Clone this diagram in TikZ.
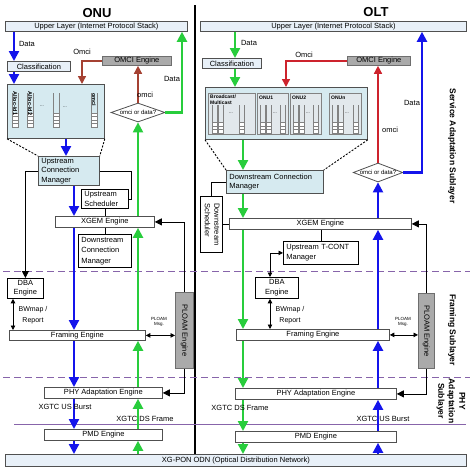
\documentclass[tikz,border=0pt]{standalone}
\usepackage{fontspec}
\setmainfont{Liberation Sans}
\usepackage{graphicx}
\usetikzlibrary{arrows.meta,
                calc,
                positioning,
                shapes.geometric}

\definecolor{palefill}{RGB}{232,240,248}
\definecolor{cyanfill}{RGB}{214,234,240}
\definecolor{subfill}{RGB}{226,232,236}
\definecolor{enginefill}{RGB}{170,170,170}
\definecolor{enginedraw}{RGB}{110,110,110}
\definecolor{boxline}{RGB}{80,80,80}
\definecolor{tubeline}{RGB}{130,130,130}
\definecolor{usblue}{RGB}{20,20,235}
\definecolor{dsgreen}{RGB}{40,205,60}
\definecolor{onubrown}{RGB}{165,65,50}
\definecolor{oltred}{RGB}{205,35,45}
\definecolor{subline}{RGB}{135,100,170}

\begin{document}
\begin{tikzpicture}[
    x=1pt, y=-1pt,
    font=\fontsize{7.5}{9.5}\selectfont,
        base/.style = {draw=boxline, line width=0.8pt, fill=white, inner sep=1pt, anchor=north west},
        sz/.style 2 args = {minimum width=#1pt, minimum height=#2pt},
        layerbox/.style = {base, fill=palefill},
        queuebox/.style = {base, fill=cyanfill},
        subqueue/.style = {base, fill=subfill, draw=tubeline, line width=0.5pt},
        manager/.style = {base, align=left, inner xsep=3pt},
        engine/.style = {base, fill=enginefill, draw=enginedraw},
        decision/.style = {diamond, draw=boxline, line width=0.8pt, fill=white, aspect=3,
                    inner sep=0pt, minimum width=54pt, minimum height=19pt,
                    font=\fontsize{6}{6.5}\selectfont},
        sidetitle/.style = {font=\fontsize{13}{15}\selectfont\bfseries},
        sublayer/.style = {font=\fontsize{8.5}{10.5}\selectfont\bfseries, rotate=-90, align=center},
        qlabel/.style = {font=\fontsize{5.5}{6}\selectfont\bfseries, inner sep=0pt},
        tinytext/.style = {font=\fontsize{4.5}{5.5}\selectfont, align=center, inner sep=0pt},
        tube/.style = {draw=tubeline, line width=0.5pt},
        upflow/.style = {draw=usblue, line width=2.2pt, -{Triangle[length=10pt, width=10pt]}},
        dsflow/.style = {draw=dsgreen, line width=2.2pt, -{Triangle[length=10pt, width=10pt]}},
        omciflow/.style = {line width=1.4pt, -{Triangle[length=8pt, width=8pt]}},
        ctrl/.style = {draw=black, line width=0.8pt},
        ctrlarrow/.style = {ctrl, -{Triangle[length=7pt, width=7pt]}},
        ctrlboth/.style = {ctrl, {Triangle[length=4.5pt, width=4.5pt]}-{Triangle[length=4.5pt, width=4.5pt]}},
        splitline/.style = {draw=black, line width=2.6pt},
        subdash/.style = {draw=subline, line width=1pt, dash pattern=on 7pt off 4pt},
        zoomline/.style = {draw=black, line width=0.9pt, dash pattern=on 2pt off 1.5pt}
    ]
    \useasboundingbox (0,0) rectangle (474,474);

    % ---------------- ONU ----------------
    \node[sidetitle] (onu-title) at (97,13) {ONU};
    \node[layerbox, sz={182}{10}] (onu-upper) at (5,21) {Upper Layer (Internet Protocol Stack)};
    \node[layerbox, sz={63}{10}] (onu-class) at (7,61) {Classification};
    \node[queuebox, sz={97}{54}] (onu-buf) at (7,84) {};
    \node[engine, sz={69}{9}] (onu-omci) at (102,56) {OMCI Engine};
    \node[decision] (onu-dec) at (138,112.5) {omci or data?};
    \node[manager, text width=55pt, minimum height=29pt, fill=cyanfill] (onu-ucm) at (38,156) {Upstream\\Connection\\Manager};
    \node[manager, text width=41pt, minimum height=19pt, draw=black] (onu-us) at (81,189) {Upstream\\Scheduler};
    \node[base, sz={99}{11}] (onu-xgem) at (55,216) {XGEM Engine};
    \node[manager, text width=47pt, minimum height=33pt, draw=black,
          font=\fontsize{7.5}{10.5}\selectfont] (onu-dcm) at (78,234) {Downstream\\Connection\\Manager};
    \node[base, sz={36}{20}, align=center, draw=black] (onu-dba) at (7,278) {DBA\\Engine};
    \node[base, sz={136}{10}] (onu-frame) at (9,330) {Framing Engine};
    \node[engine, sz={18}{76}] (onu-ploam) at (175,292) {\rotatebox{-90}{PLOAM Engine}};
    \node[base, sz={118}{11}] (onu-phy) at (44,387) {PHY Adaptation Engine};
    \node[base, sz={118}{11}] (onu-pmd) at (44,429) {PMD Engine};

    % queues of the ONU
    \foreach \qx in {12,27,53,91}{
        \draw[tube] (\qx,93) -- (\qx,127) (\qx+6,93) -- (\qx+6,127);
        \foreach \k in {0,...,3}
            \draw[tube, fill=white] (\qx,113+3.5*\k) rectangle (\qx+6,116.5+3.5*\k);
    }
    \node[qlabel, rotate=-90] (alloc-1) at (15,103.5) {Alloc-Id1};
    \node[qlabel, rotate=-90] (alloc-2) at (30,103.5) {Alloc-Id2};
    \node[qlabel, rotate=-90] (alloc-omci) at (94,100) {omci};
    \node[tinytext] (onu-dots-1) at (42,106) {...};
    \node[tinytext] (onu-dots-2) at (65,107) {...};

    % ---------------- OLT ----------------
    \node[sidetitle] (olt-title) at (376,12) {OLT};
    \node[layerbox, sz={266}{10}] (olt-upper) at (200,21) {Upper Layer (Internet Protocol Stack)};
    \node[layerbox, sz={59}{10}] (olt-class) at (202,58) {Classification};
    \node[queuebox, sz={162}{52}] (olt-buf) at (205,87) {};
    \node[engine, sz={63}{9}] (olt-omci) at (347,56) {OMCI Engine};
    \node[decision, minimum width=49pt] (olt-dec) at (378,172.5) {omci or data?};
    \node[manager, text width=91pt, minimum height=23pt, fill=cyanfill] (olt-dcm) at (226,170) {Downstream Connection\\Manager};
    \node[base, sz={22}{56}, draw=black] (olt-ds) at (200,196)
        {\rotatebox{-90}{\begin{tabular}{@{}l@{}}Downstream\\Scheduler\end{tabular}}};
    \node[base, sz={182}{11}] (olt-xgem) at (229,218) {XGEM Engine};
    \node[manager, text width=69pt, minimum height=23pt, draw=black,
          font=\fontsize{7.5}{10.5}\selectfont] (olt-tcont) at (283,241) {Upstream T-CONT\\Manager};
    \node[base, sz={43}{21}, align=center, draw=black] (olt-dba) at (255,277) {DBA\\Engine};
    \node[base, sz={153}{11}] (olt-frame) at (236,329) {Framing Engine};
    \node[engine, sz={16}{75}] (olt-ploam) at (418,293) {\rotatebox{-90}{PLOAM Engine}};
    \node[base, sz={161}{11}] (olt-phy) at (235,388) {PHY Adaptation Engine};
    \node[base, sz={161}{11}] (olt-pmd) at (235,431) {PMD Engine};

    % queues of the OLT
    \node[subqueue, sz={47}{41}] (olt-bc) at (208,93) {};
    \node[subqueue, sz={31}{41}] (olt-onu1) at (257,93) {};
    \node[subqueue, sz={31}{41}] (olt-onu2) at (290,93) {};
    \node[subqueue, sz={32}{41}] (olt-onun) at (329,93) {};
    \foreach \qx in {212,218,239,260,266,280,293,299,313,332,338,353}{
        \draw[tube] (\qx,105) -- (\qx,133) (\qx+5,105) -- (\qx+5,133);
        \foreach \k in {0,1,2}
            \draw[tube, fill=white] (\qx,122.5+3.5*\k) rectangle (\qx+5,126+3.5*\k);
    }
    \node[qlabel, anchor=north west, align=left, font=\fontsize{5}{5.5}\selectfont\bfseries] (bc-label) at (210,95) {Broadcast/\\Multicast};
    \node[qlabel, anchor=north west, font=\fontsize{5}{5.5}\selectfont\bfseries] (onu1-label) at (259,96) {ONU1};
    \node[qlabel, anchor=north west, font=\fontsize{5}{5.5}\selectfont\bfseries] (onu2-label) at (292,96) {ONU2};
    \node[qlabel, anchor=north west, font=\fontsize{5}{5.5}\selectfont\bfseries] (onun-label) at (331,96) {ONUn};
    \node[tinytext] (olt-dots-1) at (231,113) {...};
    \node[tinytext] (olt-dots-2) at (275,113) {...};
    \node[tinytext] (olt-dots-3) at (308,113) {...};
    \node[tinytext] (olt-dots-4) at (347,113) {...};

    % ---------------- shared ----------------
    \node[layerbox, sz={461}{12}] (odn) at (5,454) {XG-PON ODN (Optical Distribution Network)};

    \draw[splitline] (195,5) -- (195,0 |- odn.north);
    \draw[subdash] (3,271) -- (470,271);
    \draw[subdash] (3,377) -- (470,377);
    \draw[draw=subline, line width=0.8pt] (14,424) -- (466,424);

    \node[sublayer] (sl-service) at (452,146) {Service Adaptation Sublayer};
    \node[sublayer] (sl-framing) at (452,330) {Framing Sublayer};
    \node[sublayer] (sl-phy) at (451,401) {PHY\\Adaptation\\Sublayer};

    % x positions of the flows
    \coordinate (onu-inx) at (14,0);
    \coordinate (onu-bufx) at (66,0);
    \coordinate (onu-usx) at (74,0);
    \coordinate (onu-dsx) at (138,0);
    \coordinate (onu-retx) at (182,0);
    \coordinate (onu-omx) at (82,0);
    \coordinate (onu-bwx) at (13,0);
    \coordinate (olt-inx) at (235,0);
    \coordinate (olt-dsx) at (243,0);
    \coordinate (olt-usx) at (378,0);
    \coordinate (olt-retx) at (422,0);
    \coordinate (olt-omx) at (286,0);
    \coordinate (olt-bwx) at (270,0);

    % ONU data flows
    \draw[upflow] (onu-inx |- onu-upper.south) -- (onu-inx |- onu-class.north);
    \draw[upflow] (onu-inx |- onu-class.south) -- (onu-inx |- onu-buf.north);
    \draw[upflow] (onu-bufx |- onu-buf.south) -- (onu-bufx |- onu-ucm.north);
    \foreach \a/\b in {onu-ucm/onu-xgem, onu-xgem/onu-frame, onu-frame/onu-phy,
                       onu-phy/onu-pmd, onu-pmd/odn}
        \draw[upflow] (onu-usx |- \a.south) -- (onu-usx |- \b.north);
    \foreach \a/\b in {odn/onu-pmd, onu-pmd/onu-phy, onu-phy/onu-frame,
                       onu-frame/onu-xgem, onu-xgem/onu-dec}
        \draw[dsflow] (onu-dsx |- \a.north) -- (onu-dsx |- \b.south);
    \draw[dsflow] (onu-dec.east) -| (onu-retx |- onu-upper.south);
    \draw[omciflow, draw=onubrown] (onu-omci.west) -| (onu-omx |- onu-buf.north);
    \draw[omciflow, draw=onubrown] (onu-dec.north) -- (onu-dec.north |- onu-omci.south);

    % OLT data flows
    \draw[dsflow] (olt-inx |- olt-upper.south) -- (olt-inx |- olt-class.north);
    \draw[dsflow] (olt-inx |- olt-class.south) -- (olt-inx |- olt-buf.north);
    \foreach \a/\b in {olt-buf/olt-dcm, olt-dcm/olt-xgem, olt-xgem/olt-frame,
                       olt-frame/olt-phy, olt-phy/olt-pmd, olt-pmd/odn}
        \draw[dsflow] (olt-dsx |- \a.south) -- (olt-dsx |- \b.north);
    \foreach \a/\b in {odn/olt-pmd, olt-pmd/olt-phy, olt-phy/olt-frame,
                       olt-frame/olt-xgem, olt-xgem/olt-dec}
        \draw[upflow] (olt-usx |- \a.north) -- (olt-usx |- \b.south);
    \draw[upflow] (olt-dec.east) -| (olt-retx |- olt-upper.south);
    \draw[omciflow, draw=oltred] (olt-omci.west) -| (olt-omx |- olt-buf.north);
    \draw[omciflow, draw=oltred] (olt-dec.north) -- (olt-dec.north |- olt-omci.south);

    % ONU control
    \draw[ctrl] (onu-ucm.east) -| ([xshift=3pt]onu-us.east) -- (onu-us.east);
    \draw[ctrlarrow] (onu-ucm.west) -| (onu-dba.north);
    \draw[ctrl] (onu-us.south) -- (onu-us.south |- onu-xgem.north);
    \draw[ctrl] (onu-xgem.south) -- (onu-xgem.south |- onu-dcm.north);
    \draw[ctrlarrow] (onu-ploam.north) |- (onu-xgem.east);
    \draw[ctrlarrow] (onu-ploam.south) |- (onu-phy.east);
    \draw[ctrlboth] (onu-bwx |- onu-dba.south) -- (onu-bwx |- onu-frame.north);
    \draw[ctrlboth] (onu-frame.east) -- (onu-frame.east -| onu-ploam.west);

    % OLT control
    \draw[ctrl] (olt-dcm.west) -| (olt-ds.north);
    \draw[ctrl] (olt-ds.east) -- (olt-ds.east -| olt-xgem.west);
    \draw[ctrl] (olt-tcont.north) -- (olt-tcont.north |- olt-xgem.south);
    \draw[ctrlboth] (olt-tcont.west) -| (olt-bwx |- olt-dba.north);
    \draw[ctrlboth] (olt-bwx |- olt-dba.south) -- (olt-bwx |- olt-frame.north);
    \draw[ctrlboth] (olt-frame.east) -- (olt-frame.east -| olt-ploam.west);
    \draw[ctrlarrow] (olt-ploam.north) |- (olt-xgem.east);
    \draw[ctrlarrow] (olt-ploam.south) |- (olt-phy.east);

    % zoom of the queues
    \draw[zoomline] (onu-buf.south west) -- (onu-ucm.north west);
    \draw[zoomline] (onu-buf.south east) -- (onu-ucm.north east);
    \draw[zoomline] (olt-buf.south west) -- (olt-dcm.north west);
    \draw[zoomline] (olt-buf.south east) -- (olt-dcm.north east);

    % labels
    \node (lb-onu-data) at (27,44) {Data};
    \node (lb-onu-omci) at (82,52) {Omci};
    \node (lb-onu-omci2) at (145,95) {omci};
    \node (lb-onu-data2) at (172,79) {Data};
    \node (lb-olt-data) at (249,43) {Data};
    \node (lb-olt-omci) at (304,55) {Omci};
    \node (lb-olt-omci2) at (390,130) {omci};
    \node (lb-olt-data2) at (412,103) {Data};
    \node[align=center, font=\fontsize{7}{10.5}\selectfont] (lb-onu-bw) at (33,315) {BWmap /\\Report};
    \node[align=center, font=\fontsize{7}{10.5}\selectfont] (lb-olt-bw) at (290,315) {BWmap /\\Report};
    \node[tinytext] (lb-onu-ploam) at (159,322) {PLOAM\\Msg.};
    \node[tinytext] (lb-olt-ploam) at (403,322) {PLOAM\\Msg.};
    \node (lb-onu-us) at (65,407) {XGTC US Burst};
    \node (lb-onu-ds) at (145,419) {XGTC DS Frame};
    \node (lb-olt-ds) at (240,408) {XGTC DS Frame};
    \node (lb-olt-us) at (383,419) {XGTC US Burst};
\end{tikzpicture}
\end{document}
